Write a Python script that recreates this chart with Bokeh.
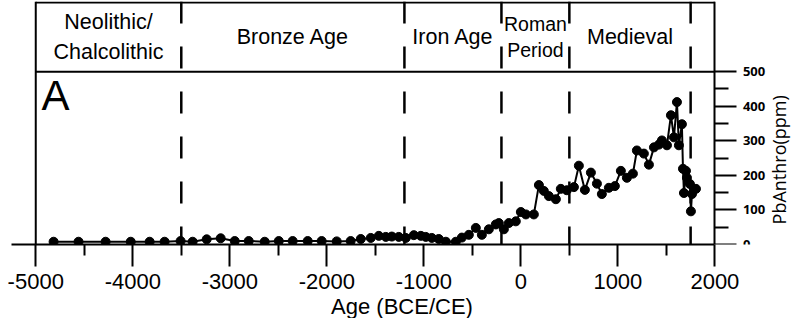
from bokeh.plotting import figure
from bokeh.models import Range1d, Span, Label, Title, FixedTicker, LinearAxis
from bokeh.embed import file_html
from bokeh.resources import INLINE
from bokeh.core.properties import value

# ---- data ----
years = [-4816, -4559, -4280, -4021, -3826, -3672, -3507, -3383, -3238, -3094,
         -2949, -2805, -2640, -2495, -2352, -2197, -2053, -1898, -1754, -1650,
         -1547, -1464, -1392, -1330, -1258, -1186, -1103, -1031, -980, -918,
         -846, -773, -670, -608, -536, -464, -402, -330, -258, -227,
         -175, -124, -52, 0, 52, 134, 186, 237, 289, 361,
         412, 474, 547, 598, 660, 722, 784, 835, 907, 969,
         1031, 1093, 1155, 1196, 1268, 1320, 1372, 1423, 1454, 1506,
         1547, 1578, 1609, 1629, 1660, 1671, 1681, 1702, 1712, 1743,
         1753, 1764, 1805]
pb_anthro = [8, 8, 8, 8, 8, 8, 10, 8, 15, 18,
             10, 10, 8, 10, 10, 10, 10, 9, 10, 16,
             19, 25, 22, 23, 22, 19, 27, 25, 22, 19,
             16, 8, 8, 20, 28, 48, 28, 44, 58, 62,
             44, 62, 67, 94, 87, 87, 172, 155, 140, 131,
             161, 157, 166, 228, 158, 208, 176, 146, 164, 169,
             213, 193, 205, 272, 263, 231, 281, 289, 301, 287,
             374, 310, 412, 287, 348, 219, 149, 213, 193, 175,
             96, 146, 161]

period_names = ["Neolithic/\nChalcolithic", "Bronze Age", "Iron Age", "Roman\nPeriod", "Medieval"]
period_bounds = [-5000, -3500, -1200, -200, 500, 1750]

x_ticks = [-5000, -4000, -3000, -2000, -1000, 0, 1000, 2000]
x_tick_labels = ["-5000", "-4000", "-3000", "-2000", "-1000", "0", "1000", "2000"]
y_ticks = [0, 100, 200, 300, 400, 500]
y_tick_labels = ["0", "100", "200", "300", "400", "500"]

FONT = "Liberation Sans"
BAND_TOP = 700          # top edge of the period band (in y units of the figure)

p = figure(width=792, height=318, x_range=Range1d(-5250, 2800), y_range=Range1d(0, 703),
           y_axis_location=None, output_backend="svg", toolbar_location=None, title=None,
           min_border_left=11, min_border_right=0, min_border_top=1, min_border_bottom=0,
           outline_line_color=None)
p.grid.visible = False

# ---- bottom axis ----
xa = p.xaxis[0]
xa.bounds = (-5250, x_ticks[-1])
xa.ticker = FixedTicker(ticks=x_ticks, minor_ticks=[t + 500 for t in x_ticks[:-1]])
xa.major_label_overrides = dict(zip(x_ticks, x_tick_labels))
xa.axis_line_width = 2
xa.major_tick_in = 0
xa.major_tick_out = 22
xa.minor_tick_in = 0
xa.minor_tick_out = 11
xa.major_tick_line_width = 2
xa.minor_tick_line_width = 2
xa.major_label_standoff = 7
xa.major_label_text_font = FONT
xa.major_label_text_font_size = "22px"
xa.major_label_text_color = "black"

p.add_layout(Title(text="Age (BCE/CE)", align="center", offset=-12, text_font=FONT,
                   text_font_size="22px", text_font_style="normal", text_color="black",
                   standoff=0), "below")

# ---- right axis at x = 2000 ----
ya = LinearAxis(fixed_location=x_ticks[-1],
                ticker=FixedTicker(ticks=y_ticks, minor_ticks=[t + 50 for t in y_ticks[:-1]]))
ya.major_label_overrides = dict(zip(y_ticks, y_tick_labels))
ya.axis_line_width = 2
ya.major_tick_in = 0
ya.major_tick_out = 22
ya.minor_tick_in = 0
ya.minor_tick_out = 14
ya.major_tick_line_width = 2
ya.minor_tick_line_width = 2
ya.major_label_standoff = 6
ya.major_label_text_font = "Open Sans"
ya.major_label_text_font_style = "bold"
ya.major_label_text_font_size = "13px"
ya.major_label_text_color = "black"
p.add_layout(ya, "right")

p.text(x=[2660], y=[245], text=["PbAnthro(ppm)"], angle=90, angle_units="deg",
       text_align="center", text_baseline="middle", text_font=value("Open Sans"),
       text_font_size="18px", text_color="black")

# ---- period band ----
p.segment(x0=[period_bounds[0]] * 2, x1=[x_ticks[-1]] * 2,
          y0=[BAND_TOP, y_ticks[-1]], y1=[BAND_TOP, y_ticks[-1]],
          line_color="black", line_width=2)
p.add_layout(Span(location=period_bounds[0], dimension="height", line_color="black", line_width=2))
for b in period_bounds[1:]:
    p.add_layout(Span(location=b, dimension="height", line_color="black",
                      line_width=2.5, line_dash="22 23", line_dash_offset=0))

mids = [(period_bounds[i] + period_bounds[i + 1]) / 2 for i in range(len(period_names))]
band_mid = (y_ticks[-1] + BAND_TOP) / 2
big = [i for i in range(len(period_names)) if i != 3]
p.text(x=[mids[i] for i in big], y=[band_mid] * len(big), text=[period_names[i] for i in big],
       text_align="center", text_baseline="middle", text_font=value(FONT),
       text_font_size="21.5px", text_line_height=1.28, text_color="black")
p.text(x=[mids[3]], y=[band_mid], text=[period_names[3]],
       text_align="center", text_baseline="middle", text_font=value(FONT),
       text_font_size="19.5px", text_line_height=1.2, text_color="black")

# ---- data ----
p.line(years, pb_anthro, line_color="black", line_width=2)
p.scatter(years, pb_anthro, size=9, fill_color="black", line_color="black")

p.add_layout(Label(x=-4940, y=500, text="A", text_font=FONT, text_font_size="42px",
                   text_baseline="top", text_align="left", text_color="black"))

open("out.html", "w").write(file_html(p, INLINE))
